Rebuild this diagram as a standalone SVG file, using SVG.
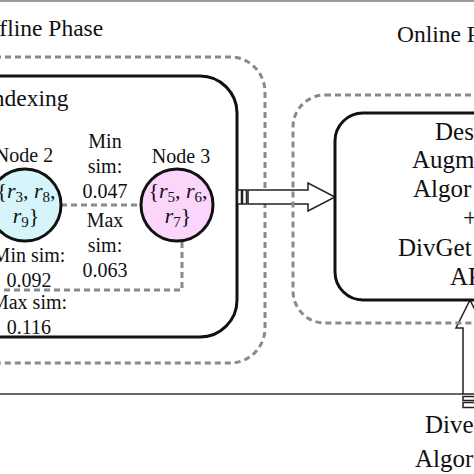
<svg xmlns="http://www.w3.org/2000/svg" width="474" height="474" viewBox="0 0 474 474">
<style>
text{font-family:"Liberation Serif","Times New Roman",serif;fill:#111}
.t{font-size:23.5px}
.n{font-size:20px}
.m{font-size:22px}
.s{font-size:15px}
.b{font-size:25px}
.dash{fill:none;stroke:#8a8a8a;stroke-width:3;stroke-dasharray:6 4}
.solid{fill:#fff;stroke:#111;stroke-width:3}
.arr{fill:#fff;stroke:#222;stroke-width:1.5}
.c{text-anchor:middle}
.i{font-style:italic}
</style>
<rect x="0" y="0" width="474" height="474" fill="#fff"/>
<rect x="0" y="0" width="474" height="2" fill="#9a9a9a"/>
<g id="offline-phase">
<rect class="dash" x="-200" y="57" width="465" height="306" rx="35"/>
<text class="t" x="-25" y="36">Offline Phase</text>
</g>
<g id="indexing">
<rect class="solid" x="-200" y="76" width="437" height="261" rx="37"/>
<text class="t" x="-15" y="106">Indexing</text>
</g>
<g id="connectors">
<path class="dash" d="M61 205H141"/>
<path class="dash" d="M182 242V290H-5"/>
<polygon class="arr" points="248,190 308,190 308,183 335,197 308,211 308,204 248,204"/>
<rect class="arr" x="237.5" y="190" width="4" height="14"/>
<rect class="arr" x="242.5" y="190" width="4" height="14"/>
<path d="M0 394H463" stroke="#333" stroke-width="1.5" fill="none"/>
<polygon class="arr" points="463,394 463,328 456,328 470,300 484,328 477,328 477,394"/>
<rect class="arr" x="463" y="396.5" width="14" height="4"/>
<rect class="arr" x="463" y="402.5" width="14" height="5"/>
</g>
<g id="node2">
<circle cx="25" cy="205" r="36" fill="#d5f5fa" stroke="#111" stroke-width="3"/>
<text class="n c" x="24" y="162">Node 2</text>
<text class="m c" x="26" y="198">{<tspan class="i">r</tspan><tspan class="s" dy="4">3</tspan><tspan dy="-4">, </tspan><tspan class="i">r</tspan><tspan class="s" dy="4">8</tspan><tspan dy="-4">,</tspan></text>
<text class="m c" x="26" y="223"><tspan class="i">r</tspan><tspan class="s" dy="4">9</tspan><tspan dy="-4">}</tspan></text>
</g>
<g id="node3">
<circle cx="177" cy="205" r="36" fill="#fbd5fb" stroke="#111" stroke-width="3"/>
<text class="n c" x="181" y="163">Node 3</text>
<text class="m c" x="178" y="198">{<tspan class="i">r</tspan><tspan class="s" dy="4">5</tspan><tspan dy="-4">, </tspan><tspan class="i">r</tspan><tspan class="s" dy="4">6</tspan><tspan dy="-4">,</tspan></text>
<text class="m c" x="178" y="223"><tspan class="i">r</tspan><tspan class="s" dy="4">7</tspan><tspan dy="-4">}</tspan></text>
</g>
<g id="sim-labels">
<text class="n c" x="105" y="148">Min</text>
<text class="n c" x="105" y="173">sim:</text>
<text class="n c" x="105" y="198">0.047</text>
<text class="n c" x="105" y="227">Max</text>
<text class="n c" x="105" y="252">sim:</text>
<text class="n c" x="105" y="277">0.063</text>
<text class="n c" x="29" y="262">Min sim:</text>
<text class="n c" x="29" y="287">0.092</text>
<text class="n c" x="29" y="309">Max sim:</text>
<text class="n c" x="29" y="334">0.116</text>
</g>
<g id="online-phase">
<rect class="dash" x="293" y="95" width="300" height="228" rx="32"/>
<text class="t" x="397" y="42">Online Phase</text>
</g>
<g id="online-box">
<rect class="solid" x="335" y="113" width="300" height="187" rx="28"/>
<text class="b" x="435" y="140">Des</text>
<text class="b" x="412" y="168">Augm</text>
<text class="b" x="413" y="197">Algor</text>
<text class="b" x="463" y="226">+</text>
<text class="b" x="398" y="256">DivGet</text>
<text class="b" x="450" y="285">AP</text>
</g>
<g id="diversity">
<text class="b" x="425" y="433">Dive</text>
<text class="b" x="415" y="467">Algor</text>
</g>
</svg>
